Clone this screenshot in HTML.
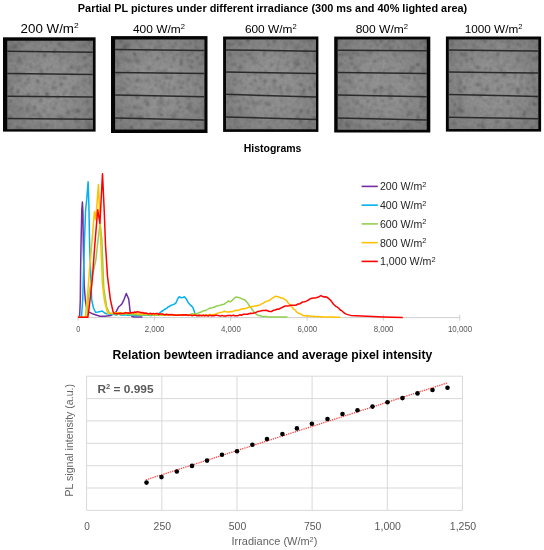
<!DOCTYPE html>
<html><head><meta charset="utf-8"><title>PL irradiance</title>
<style>
html,body{margin:0;padding:0;background:#fff;}
body{width:544px;height:550px;overflow:hidden;}
svg{display:block;font-family:'Liberation Sans', Arial, sans-serif;}
</style></head><body>
<svg width="544" height="550" viewBox="0 0 544 550">
<text x="77.8" y="11.6" font-size="11.2" font-weight="bold" fill="#000" textLength="389.4" lengthAdjust="spacingAndGlyphs">Partial PL pictures under different irradiance (300 ms and 40% lighted area)</text>
<text x="20.6" y="32.5" font-size="12.4" fill="#000" textLength="58.1" lengthAdjust="spacingAndGlyphs">200 W/m<tspan font-size="7.9" dy="-4.8">2</tspan></text>
<text x="133.0" y="33.1" font-size="10.8" fill="#000" textLength="51.9" lengthAdjust="spacingAndGlyphs">400 W/m<tspan font-size="6.9" dy="-4.2">2</tspan></text>
<text x="244.9" y="33.2" font-size="10.8" fill="#000" textLength="51.8" lengthAdjust="spacingAndGlyphs">600 W/m<tspan font-size="6.9" dy="-4.2">2</tspan></text>
<text x="355.7" y="33.1" font-size="10.8" fill="#000" textLength="52.4" lengthAdjust="spacingAndGlyphs">800 W/m<tspan font-size="6.9" dy="-4.2">2</tspan></text>
<text x="464.7" y="33.3" font-size="10.8" fill="#000" textLength="57.7" lengthAdjust="spacingAndGlyphs">1000 W/m<tspan font-size="6.9" dy="-4.2">2</tspan></text>
<defs>
<filter id="tex" x="0" y="0" width="100%" height="100%" color-interpolation-filters="sRGB">
<feTurbulence type="fractalNoise" baseFrequency="0.14" numOctaves="3" seed="11" result="n"/>
<feColorMatrix in="n" type="matrix" values="0 0 0 0 0.2  0 0 0 0 0.2  0 0 0 0 0.2  -3.4 0 0 0 1.4"/>
<feGaussianBlur stdDeviation="0.9"/>
</filter>
<filter id="spk" x="0" y="0" width="100%" height="100%" color-interpolation-filters="sRGB">
<feTurbulence type="fractalNoise" baseFrequency="0.3" numOctaves="2" seed="5" result="n"/>
<feColorMatrix in="n" type="matrix" values="0 0 0 0 0.15  0 0 0 0 0.15  0 0 0 0 0.15  -6 0 0 0 2.25"/>
<feGaussianBlur stdDeviation="0.85"/>
</filter>
<filter id="grain" x="0" y="0" width="100%" height="100%" color-interpolation-filters="sRGB">
<feTurbulence type="fractalNoise" baseFrequency="0.35" numOctaves="2" seed="3" result="n"/>
<feColorMatrix in="n" type="matrix" values="0.07 0 0 0 0.525  0.07 0 0 0 0.525  0.07 0 0 0 0.525  0 0 0 0 1"/>
</filter>
<radialGradient id="vig" cx="0.5" cy="0.5" r="0.72">
<stop offset="0.35" stop-color="#000" stop-opacity="0"/>
<stop offset="1" stop-color="#000" stop-opacity="0.16"/>
</radialGradient>
</defs>
<clipPath id="c0"><rect x="7.3" y="40.8" width="85.6" height="88.5"/></clipPath>
<rect x="3.0" y="37.3" width="92.6" height="94.3" fill="#050505"/>
<g clip-path="url(#c0)"><rect x="5.3" y="38.8" width="89.6" height="92.5" fill="#888" filter="url(#grain)"/></g>
<g clip-path="url(#c0)"><rect x="5.3" y="38.8" width="89.6" height="92.5" fill="#000" filter="url(#tex)" opacity="0.35"/></g>
<g clip-path="url(#c0)"><rect x="5.3" y="38.8" width="89.6" height="92.5" fill="#000" filter="url(#spk)" opacity="0.55"/></g>
<rect x="7.3" y="40.8" width="85.6" height="88.5" fill="url(#vig)"/>
<line x1="7.3" y1="51.20" x2="92.9" y2="52.20" stroke="#2a2a2a" stroke-width="1.5"/>
<line x1="7.3" y1="73.40" x2="92.9" y2="74.60" stroke="#2a2a2a" stroke-width="1.5"/>
<line x1="7.3" y1="96.30" x2="92.9" y2="97.10" stroke="#2a2a2a" stroke-width="1.5"/>
<line x1="7.3" y1="118.50" x2="92.9" y2="119.30" stroke="#2a2a2a" stroke-width="1.5"/>
<clipPath id="c1"><rect x="115.1" y="39.4" width="89.3" height="90.2"/></clipPath>
<rect x="111.0" y="36.1" width="96.5" height="96.9" fill="#050505"/>
<g clip-path="url(#c1)"><rect x="113.1" y="37.4" width="93.3" height="94.2" fill="#888" filter="url(#grain)"/></g>
<g clip-path="url(#c1)"><rect x="113.1" y="37.4" width="93.3" height="94.2" fill="#000" filter="url(#tex)" opacity="0.35"/></g>
<g clip-path="url(#c1)"><rect x="113.1" y="37.4" width="93.3" height="94.2" fill="#000" filter="url(#spk)" opacity="0.55"/></g>
<rect x="115.1" y="39.4" width="89.3" height="90.2" fill="url(#vig)"/>
<line x1="115.1" y1="49.60" x2="204.4" y2="50.60" stroke="#2a2a2a" stroke-width="1.5"/>
<line x1="115.1" y1="72.40" x2="204.4" y2="73.40" stroke="#2a2a2a" stroke-width="1.5"/>
<line x1="115.1" y1="94.90" x2="204.4" y2="96.70" stroke="#2a2a2a" stroke-width="1.5"/>
<line x1="115.1" y1="117.90" x2="204.4" y2="119.90" stroke="#2a2a2a" stroke-width="1.5"/>
<clipPath id="c2"><rect x="226.0" y="39.6" width="90.0" height="89.7"/></clipPath>
<rect x="223.1" y="36.5" width="95.3" height="95.4" fill="#050505"/>
<g clip-path="url(#c2)"><rect x="224.0" y="37.6" width="94.0" height="93.7" fill="#888" filter="url(#grain)"/></g>
<g clip-path="url(#c2)"><rect x="224.0" y="37.6" width="94.0" height="93.7" fill="#000" filter="url(#tex)" opacity="0.35"/></g>
<g clip-path="url(#c2)"><rect x="224.0" y="37.6" width="94.0" height="93.7" fill="#000" filter="url(#spk)" opacity="0.55"/></g>
<rect x="226.0" y="39.6" width="90.0" height="89.7" fill="url(#vig)"/>
<line x1="226.0" y1="49.90" x2="316.0" y2="51.30" stroke="#2a2a2a" stroke-width="1.5"/>
<line x1="226.0" y1="72.00" x2="316.0" y2="73.60" stroke="#2a2a2a" stroke-width="1.5"/>
<line x1="226.0" y1="94.30" x2="316.0" y2="97.10" stroke="#2a2a2a" stroke-width="1.5"/>
<line x1="226.0" y1="117.00" x2="316.0" y2="119.50" stroke="#2a2a2a" stroke-width="1.5"/>
<clipPath id="c3"><rect x="337.7" y="39.6" width="89.0" height="90.2"/></clipPath>
<rect x="334.2" y="36.6" width="96.1" height="95.9" fill="#050505"/>
<g clip-path="url(#c3)"><rect x="335.7" y="37.6" width="93.0" height="94.2" fill="#888" filter="url(#grain)"/></g>
<g clip-path="url(#c3)"><rect x="335.7" y="37.6" width="93.0" height="94.2" fill="#000" filter="url(#tex)" opacity="0.35"/></g>
<g clip-path="url(#c3)"><rect x="335.7" y="37.6" width="93.0" height="94.2" fill="#000" filter="url(#spk)" opacity="0.55"/></g>
<rect x="337.7" y="39.6" width="89.0" height="90.2" fill="url(#vig)"/>
<line x1="337.7" y1="50.20" x2="426.7" y2="50.80" stroke="#2a2a2a" stroke-width="1.5"/>
<line x1="337.7" y1="72.60" x2="426.7" y2="73.40" stroke="#2a2a2a" stroke-width="1.5"/>
<line x1="337.7" y1="95.10" x2="426.7" y2="96.70" stroke="#2a2a2a" stroke-width="1.5"/>
<line x1="337.7" y1="117.90" x2="426.7" y2="119.90" stroke="#2a2a2a" stroke-width="1.5"/>
<clipPath id="c4"><rect x="448.8" y="39.6" width="89.5" height="89.5"/></clipPath>
<rect x="445.9" y="36.5" width="95.2" height="95.1" fill="#050505"/>
<g clip-path="url(#c4)"><rect x="446.8" y="37.6" width="93.5" height="93.5" fill="#888" filter="url(#grain)"/></g>
<g clip-path="url(#c4)"><rect x="446.8" y="37.6" width="93.5" height="93.5" fill="#000" filter="url(#tex)" opacity="0.35"/></g>
<g clip-path="url(#c4)"><rect x="446.8" y="37.6" width="93.5" height="93.5" fill="#000" filter="url(#spk)" opacity="0.55"/></g>
<rect x="448.8" y="39.6" width="89.5" height="89.5" fill="url(#vig)"/>
<line x1="448.8" y1="50.00" x2="538.3" y2="51.00" stroke="#2a2a2a" stroke-width="1.5"/>
<line x1="448.8" y1="72.00" x2="538.3" y2="73.00" stroke="#2a2a2a" stroke-width="1.5"/>
<line x1="448.8" y1="94.50" x2="538.3" y2="96.50" stroke="#2a2a2a" stroke-width="1.5"/>
<line x1="448.8" y1="117.20" x2="538.3" y2="118.80" stroke="#2a2a2a" stroke-width="1.5"/>
<text x="243.7" y="151.9" font-size="11.0" font-weight="bold" fill="#000" textLength="57.7" lengthAdjust="spacingAndGlyphs">Histograms</text>
<line x1="78" y1="317.6" x2="460" y2="317.6" stroke="#d0d0d0" stroke-width="1"/>
<line x1="78.0" y1="314.7" x2="78.0" y2="320.7" stroke="#d0d0d0" stroke-width="1"/>
<line x1="154.4" y1="314.7" x2="154.4" y2="320.7" stroke="#d0d0d0" stroke-width="1"/>
<line x1="230.7" y1="314.7" x2="230.7" y2="320.7" stroke="#d0d0d0" stroke-width="1"/>
<line x1="307.1" y1="314.7" x2="307.1" y2="320.7" stroke="#d0d0d0" stroke-width="1"/>
<line x1="383.4" y1="314.7" x2="383.4" y2="320.7" stroke="#d0d0d0" stroke-width="1"/>
<line x1="459.8" y1="314.7" x2="459.8" y2="320.7" stroke="#d0d0d0" stroke-width="1"/>
<text x="76.2" y="331.9" font-size="8.2" fill="#595959" textLength="4.0" lengthAdjust="spacingAndGlyphs">0</text>
<text x="144.7" y="331.9" font-size="8.2" fill="#595959" textLength="19.8" lengthAdjust="spacingAndGlyphs">2,000</text>
<text x="221.0" y="331.9" font-size="8.2" fill="#595959" textLength="19.8" lengthAdjust="spacingAndGlyphs">4,000</text>
<text x="297.4" y="331.9" font-size="8.2" fill="#595959" textLength="19.8" lengthAdjust="spacingAndGlyphs">6,000</text>
<text x="373.7" y="331.9" font-size="8.2" fill="#595959" textLength="19.8" lengthAdjust="spacingAndGlyphs">8,000</text>
<text x="447.9" y="331.9" font-size="8.2" fill="#595959" textLength="24.2" lengthAdjust="spacingAndGlyphs">10,000</text>
<polyline points="78.0,317.2 79.6,317.0 80.3,300.0 80.6,270.0 81.1,240.0 81.8,210.0 82.4,202.0 82.9,212.0 83.3,245.0 84.2,285.0 85.3,300.0 86.5,308.0 88.5,311.8 92.3,313.7 100.0,316.2 105.0,316.2 111.0,315.4 116.0,312.1 117.4,309.1 118.8,306.7 120.4,305.5 122.0,303.7 124.0,299.6 126.3,293.5 128.7,299.0 130.3,312.7 132.0,316.5 133.3,316.7 134.7,316.9 136.0,317.1 137.6,317.1 139.2,317.1 140.8,317.1 142.4,317.1" fill="none" stroke="#7030A0" stroke-width="1.5" stroke-linejoin="round"/>
<polyline points="78.0,317.2 81.5,317.0 82.7,300.0 84.5,240.0 85.6,210.0 86.7,199.9 88.1,181.7 88.9,205.0 89.6,245.0 91.7,300.0 93.5,308.0 95.5,312.2 98.0,312.0 100.0,311.6 102.2,311.0 104.6,313.0 106.6,313.8 114.3,314.4 115.6,314.9 116.9,314.9 118.2,314.2 119.5,314.3 120.8,315.0 122.2,315.0 123.5,315.0 124.8,314.8 126.1,315.1 127.4,315.2 128.7,315.2 130.0,315.2 131.3,314.9 132.7,315.2 134.0,315.1 135.3,315.5 136.7,315.7 138.0,315.7 139.3,315.3 140.7,315.3 142.0,315.1 143.3,314.9 144.7,314.9 146.0,315.3 147.3,315.2 148.7,315.3 150.0,315.4 151.3,315.6 152.7,315.1 154.0,315.0 155.3,314.5 156.7,314.1 158.0,314.4 159.7,312.9 161.5,311.5 163.2,310.5 164.9,309.2 166.6,308.4 168.3,306.7 169.8,306.2 171.3,305.1 172.8,304.7 174.4,304.1 176.0,302.8 178.0,298.3 179.3,296.8 181.2,297.7 182.8,297.5 184.4,296.8 186.3,298.9 188.3,302.8 190.8,305.4 192.8,307.3 194.7,312.5 196.0,315.0 197.3,315.4 198.7,315.8 200.0,315.6" fill="none" stroke="#00B0F0" stroke-width="1.5" stroke-linejoin="round"/>
<polyline points="78.0,317.2 87.0,317.0 88.5,296.7 92.2,276.4 95.8,260.4 98.0,240.0 100.2,223.2 101.9,240.0 103.8,288.0 106.7,307.0 109.4,313.0 115.0,314.2 116.3,314.0 117.7,314.3 119.0,314.2 120.4,314.4 121.7,314.4 123.1,314.0 124.4,314.0 125.8,314.7 127.1,314.2 128.5,314.2 129.8,314.9 131.2,314.5 132.5,314.9 133.8,314.6 135.2,314.7 136.5,314.3 137.9,314.8 139.2,315.0 140.6,314.7 141.9,315.0 143.3,314.9 144.6,314.4 146.0,315.1 147.3,314.9 148.7,314.7 150.0,314.9 151.3,314.5 152.6,315.2 153.9,314.9 155.2,315.1 156.5,315.3 157.8,315.1 159.1,315.3 160.4,314.8 161.7,315.2 163.0,314.9 164.3,315.3 165.6,315.3 166.9,314.6 168.2,314.6 169.5,314.7 170.8,315.4 172.1,314.9 173.4,315.1 174.7,314.8 176.0,315.0 177.3,314.9 178.6,314.9 179.9,315.1 181.2,315.1 182.5,315.4 183.8,315.0 185.2,315.0 186.7,315.1 188.1,314.8 189.6,314.8 191.0,314.3 192.4,313.7 193.9,314.2 195.3,313.7 196.6,313.7 197.9,313.2 199.2,312.5 200.5,312.2 201.8,311.6 203.3,310.8 204.9,310.8 206.4,309.9 207.7,309.4 209.0,308.7 210.3,307.9 211.6,308.1 212.9,307.3 214.5,307.3 216.1,306.0 217.7,306.1 219.3,305.4 220.8,305.0 222.3,304.5 223.8,304.5 225.3,303.1 226.8,302.3 228.3,300.9 230.2,301.9 231.8,300.7 233.5,298.9 235.1,297.5 236.7,297.0 238.2,297.6 239.7,297.7 241.2,298.6 242.8,299.3 244.4,299.6 247.0,302.2 249.5,306.0 251.2,308.1 252.8,310.5 254.7,312.8 256.6,314.4 258.3,315.5 260.1,315.7 261.8,316.3 263.2,316.9 264.5,316.5 265.9,316.6 267.3,316.8 268.6,316.9 270.0,317.0 271.3,317.0 272.7,317.0 274.0,317.0 275.4,317.0 276.7,317.0 278.1,317.0 279.4,317.0 280.8,317.0 282.1,317.0 283.5,317.0 284.8,317.0 286.2,317.0 287.5,317.0" fill="none" stroke="#92D050" stroke-width="1.5" stroke-linejoin="round"/>
<polyline points="78.0,317.2 85.3,317.0 87.2,300.0 89.5,270.0 91.7,245.0 94.4,211.8 95.8,219.5 98.4,184.6 100.7,240.0 102.4,283.6 104.5,301.0 107.7,313.2 112.0,313.4 113.3,313.1 114.7,312.8 116.0,313.0 117.3,312.7 118.7,312.5 120.0,312.8 121.4,312.7 122.9,313.2 124.3,313.2 125.7,313.2 127.1,312.7 128.6,313.0 130.0,313.0 131.4,312.9 132.9,312.9 134.3,313.0 135.7,313.2 137.1,314.0 138.6,314.0 140.0,313.8 141.3,314.1 142.7,314.2 144.0,313.7 145.3,313.8 146.7,314.2 148.0,314.3 149.3,314.5 150.7,314.6 152.0,313.9 153.3,314.4 154.7,314.5 156.0,314.4 157.3,314.2 158.7,314.5 160.0,314.6 161.3,314.3 162.7,315.1 164.0,315.0 165.3,314.8 166.7,314.6 168.0,315.1 169.3,314.9 170.7,315.2 172.0,315.2 173.3,314.9 174.7,314.9 176.0,315.0 177.3,314.9 178.7,314.7 180.0,314.9 181.3,315.4 182.7,314.7 184.0,314.7 185.3,315.3 186.7,315.0 188.0,315.3 189.3,315.2 190.7,315.1 192.0,315.8 193.3,315.1 194.7,315.3 196.0,315.1 197.3,315.6 198.7,315.3 200.0,315.5 201.4,315.3 202.9,315.6 204.3,315.1 205.7,315.2 207.2,315.5 208.6,314.7 210.0,314.6 211.5,314.6 212.9,314.8 214.4,314.6 215.8,314.0 217.3,313.3 218.8,312.9 220.3,312.4 221.7,312.2 223.2,311.8 224.7,311.3 226.1,311.8 227.6,311.9 229.1,311.9 230.6,311.6 232.0,311.7 233.5,311.2 235.0,310.4 236.6,310.2 238.1,310.4 239.7,309.8 241.2,309.2 242.7,308.8 244.2,308.9 245.7,308.2 247.2,308.0 248.7,307.2 250.2,307.0 251.8,306.5 253.4,306.4 255.0,305.9 256.6,306.0 258.2,305.2 259.8,305.1 261.4,303.9 263.0,303.4 264.4,302.2 265.8,301.6 267.3,300.9 268.7,300.8 270.1,299.8 271.8,298.5 273.6,297.3 275.3,296.3 277.2,296.4 279.2,297.2 280.8,298.0 282.4,297.9 284.0,298.8 285.6,299.8 287.2,301.5 288.8,303.7 290.3,305.0 291.8,306.7 293.3,308.8 295.0,310.0 296.8,312.0 298.5,313.3 300.0,313.8 301.5,314.4 303.0,315.6 304.4,315.7 305.8,315.6 307.2,316.3 308.6,315.7 310.0,316.1 311.4,316.2 312.9,316.5 314.3,316.3 315.7,316.9 317.2,316.5 318.6,316.6 320.0,316.7 321.5,316.8 322.9,316.9 324.2,316.9 325.6,317.0 326.9,317.0 328.3,317.0 329.6,317.1 330.9,317.1 332.3,317.1 333.6,317.1 334.9,317.2 336.3,317.2 337.6,317.2 339.0,317.3 340.3,317.3" fill="none" stroke="#FFC000" stroke-width="1.5" stroke-linejoin="round"/>
<polyline points="78.0,317.3 87.8,317.3 88.5,312.7 90.5,296.0 92.2,280.7 94.8,245.0 97.7,209.7 99.9,223.2 102.5,173.7 104.2,210.0 105.5,245.0 107.5,276.4 110.4,299.6 113.0,311.3 114.3,313.6 115.7,313.6 117.2,313.7 118.6,313.6 120.0,313.3 121.3,313.6 122.6,313.4 123.9,313.5 125.2,312.6 126.5,313.0 127.9,312.9 129.2,313.2 130.6,312.8 132.0,312.6 133.3,312.8 134.6,312.0 136.0,312.2 137.3,311.8 138.6,311.9 139.9,312.3 141.3,312.7 142.7,312.5 144.0,313.3 145.3,313.1 146.7,313.2 148.0,313.9 149.3,313.8 150.7,313.3 152.0,314.0 153.3,313.4 154.7,313.9 156.0,313.6 157.3,313.5 158.7,314.4 160.0,314.1 161.3,313.9 162.7,314.0 164.0,314.7 165.3,314.7 166.6,314.2 168.0,314.9 169.3,314.6 170.6,314.8 172.0,314.4 173.3,315.1 174.6,315.0 175.9,315.3 177.3,315.3 178.6,315.0 180.0,314.9 181.5,315.0 182.9,314.8 184.3,314.9 185.8,314.8 187.2,315.1 188.6,315.4 190.1,314.9 191.5,315.4 192.8,315.6 194.1,315.3 195.5,315.3 196.8,315.7 198.1,315.5 199.4,315.3 200.8,315.5 202.1,315.7 203.4,315.1 204.7,316.0 206.1,315.1 207.4,315.8 208.7,315.9 210.0,315.2 211.4,315.9 212.7,315.5 214.0,315.7 215.3,315.2 216.7,315.3 218.0,315.4 219.3,315.7 220.7,316.1 222.1,315.4 223.4,315.9 224.8,316.0 226.2,316.0 227.6,315.4 228.9,315.4 230.3,315.6 231.7,315.8 233.1,315.1 234.5,315.7 235.8,315.7 237.2,315.7 238.6,315.4 240.1,314.7 241.5,315.3 243.0,314.3 244.5,314.3 246.0,314.3 247.4,314.3 248.9,313.7 250.5,313.3 252.1,313.6 253.7,313.0 255.3,312.7 257.0,311.9 258.8,311.3 260.5,310.9 262.4,310.4 264.4,310.5 265.8,310.3 267.2,310.6 268.7,311.3 270.1,311.4 271.8,311.4 273.6,310.2 275.3,310.1 277.0,309.1 278.7,309.3 280.4,308.2 281.7,307.7 283.0,307.0 284.3,306.3 285.6,306.0 287.3,305.9 289.0,305.8 290.7,305.3 292.4,305.3 294.2,305.2 295.9,305.3 297.6,304.1 299.3,304.1 301.0,303.0 302.7,301.9 304.5,301.7 306.2,301.1 308.1,300.3 310.0,298.9 311.9,298.2 313.9,298.1 315.2,298.1 316.5,297.6 318.0,297.3 319.5,296.4 321.0,295.6 322.6,296.6 324.2,297.0 325.5,296.7 326.8,297.2 328.4,298.4 330.0,299.8 331.3,301.1 332.6,303.0 334.2,305.0 335.9,306.3 337.4,307.2 338.9,308.5 340.3,310.0 341.8,310.7 343.5,312.3 345.2,313.6 346.9,314.4 350.6,315.4 366.8,316.2 383.0,316.9 402.8,317.4" fill="none" stroke="#FF0000" stroke-width="1.5" stroke-linejoin="round"/>
<line x1="361.6" y1="186.4" x2="377.8" y2="186.4" stroke="#7030A0" stroke-width="1.6"/>
<text x="379.9" y="190.3" font-size="10" fill="#262626" textLength="46.5" lengthAdjust="spacingAndGlyphs">200 W/m<tspan font-size="7" dy="-3.6">2</tspan></text>
<line x1="361.6" y1="205.15" x2="377.8" y2="205.15" stroke="#00B0F0" stroke-width="1.6"/>
<text x="379.9" y="209.1" font-size="10" fill="#262626" textLength="46.5" lengthAdjust="spacingAndGlyphs">400 W/m<tspan font-size="7" dy="-3.6">2</tspan></text>
<line x1="361.6" y1="223.9" x2="377.8" y2="223.9" stroke="#92D050" stroke-width="1.6"/>
<text x="379.9" y="227.8" font-size="10" fill="#262626" textLength="46.5" lengthAdjust="spacingAndGlyphs">600 W/m<tspan font-size="7" dy="-3.6">2</tspan></text>
<line x1="361.6" y1="242.65" x2="377.8" y2="242.65" stroke="#FFC000" stroke-width="1.6"/>
<text x="379.9" y="246.6" font-size="10" fill="#262626" textLength="46.5" lengthAdjust="spacingAndGlyphs">800 W/m<tspan font-size="7" dy="-3.6">2</tspan></text>
<line x1="361.6" y1="261.4" x2="377.8" y2="261.4" stroke="#FF0000" stroke-width="1.6"/>
<text x="379.9" y="265.3" font-size="10" fill="#262626" textLength="55.8" lengthAdjust="spacingAndGlyphs">1,000 W/m<tspan font-size="7" dy="-3.6">2</tspan></text>
<text x="112.6" y="359.0" font-size="12.4" font-weight="bold" fill="#000" textLength="319.7" lengthAdjust="spacingAndGlyphs">Relation bewteen irradiance and average pixel intensity</text>
<line x1="86.6" y1="376.2" x2="86.6" y2="510.4" stroke="#d9d9d9" stroke-width="1"/>
<line x1="161.8" y1="376.2" x2="161.8" y2="510.4" stroke="#d9d9d9" stroke-width="1"/>
<line x1="237.0" y1="376.2" x2="237.0" y2="510.4" stroke="#d9d9d9" stroke-width="1"/>
<line x1="312.1" y1="376.2" x2="312.1" y2="510.4" stroke="#d9d9d9" stroke-width="1"/>
<line x1="387.3" y1="376.2" x2="387.3" y2="510.4" stroke="#d9d9d9" stroke-width="1"/>
<line x1="462.5" y1="376.2" x2="462.5" y2="510.4" stroke="#d9d9d9" stroke-width="1"/>
<line x1="86.6" y1="376.2" x2="462.5" y2="376.2" stroke="#d9d9d9" stroke-width="1"/>
<line x1="86.6" y1="398.6" x2="462.5" y2="398.6" stroke="#d9d9d9" stroke-width="1"/>
<line x1="86.6" y1="420.9" x2="462.5" y2="420.9" stroke="#d9d9d9" stroke-width="1"/>
<line x1="86.6" y1="443.3" x2="462.5" y2="443.3" stroke="#d9d9d9" stroke-width="1"/>
<line x1="86.6" y1="465.7" x2="462.5" y2="465.7" stroke="#d9d9d9" stroke-width="1"/>
<line x1="86.6" y1="488.0" x2="462.5" y2="488.0" stroke="#d9d9d9" stroke-width="1"/>
<line x1="86.6" y1="510.4" x2="462.5" y2="510.4" stroke="#d9d9d9" stroke-width="1"/>
<text x="84.3" y="530.2" font-size="10.4" fill="#595959" textLength="5.6" lengthAdjust="spacingAndGlyphs">0</text>
<text x="153.6" y="530.2" font-size="10.4" fill="#595959" textLength="17.4" lengthAdjust="spacingAndGlyphs">250</text>
<text x="228.8" y="530.2" font-size="10.4" fill="#595959" textLength="17.4" lengthAdjust="spacingAndGlyphs">500</text>
<text x="303.9" y="530.2" font-size="10.4" fill="#595959" textLength="17.4" lengthAdjust="spacingAndGlyphs">750</text>
<text x="374.6" y="530.2" font-size="10.4" fill="#595959" textLength="26.4" lengthAdjust="spacingAndGlyphs">1,000</text>
<text x="449.8" y="530.2" font-size="10.4" fill="#595959" textLength="26.4" lengthAdjust="spacingAndGlyphs">1,250</text>
<text x="231.5" y="545.1" font-size="10.4" fill="#636363" textLength="85.9" lengthAdjust="spacingAndGlyphs">Irradiance (W/m<tspan font-size="7" dy="-3.6">2</tspan><tspan dy="3.6">)</tspan></text>
<text transform="translate(72.8,440.2) rotate(-90)" x="0" y="0" font-size="10.3" fill="#666" text-anchor="middle" textLength="112.5" lengthAdjust="spacingAndGlyphs">PL signal intensity (a.u.)</text>
<text x="97.5" y="393.0" font-size="11.2" font-weight="bold" fill="#595959" textLength="56.0" lengthAdjust="spacingAndGlyphs">R<tspan font-size="7.2" dy="-3.8">2</tspan><tspan dy="3.8"> = 0.995</tspan></text>
<line x1="145.8" y1="479.9" x2="448" y2="382.7" stroke="#FF3030" stroke-width="1.3" stroke-dasharray="1.3 1.0" opacity="0.9"/>
<circle cx="146.5" cy="482.6" r="2.3" fill="#000"/>
<circle cx="161.5" cy="477.1" r="2.3" fill="#000"/>
<circle cx="176.8" cy="471.5" r="2.3" fill="#000"/>
<circle cx="192" cy="465.9" r="2.3" fill="#000"/>
<circle cx="207" cy="460.6" r="2.3" fill="#000"/>
<circle cx="222" cy="454.7" r="2.3" fill="#000"/>
<circle cx="237" cy="451.2" r="2.3" fill="#000"/>
<circle cx="252.4" cy="444.7" r="2.3" fill="#000"/>
<circle cx="267" cy="439.1" r="2.3" fill="#000"/>
<circle cx="282.4" cy="434.1" r="2.3" fill="#000"/>
<circle cx="296.9" cy="428.4" r="2.3" fill="#000"/>
<circle cx="311.9" cy="423.75" r="2.3" fill="#000"/>
<circle cx="327.5" cy="419" r="2.3" fill="#000"/>
<circle cx="342.5" cy="414" r="2.3" fill="#000"/>
<circle cx="357.5" cy="410.3" r="2.3" fill="#000"/>
<circle cx="372.5" cy="406.6" r="2.3" fill="#000"/>
<circle cx="387.5" cy="402.2" r="2.3" fill="#000"/>
<circle cx="402.5" cy="398.1" r="2.3" fill="#000"/>
<circle cx="417.5" cy="393.4" r="2.3" fill="#000"/>
<circle cx="432.5" cy="390" r="2.3" fill="#000"/>
<circle cx="447.5" cy="387.8" r="2.3" fill="#000"/>
</svg>
</body></html>
